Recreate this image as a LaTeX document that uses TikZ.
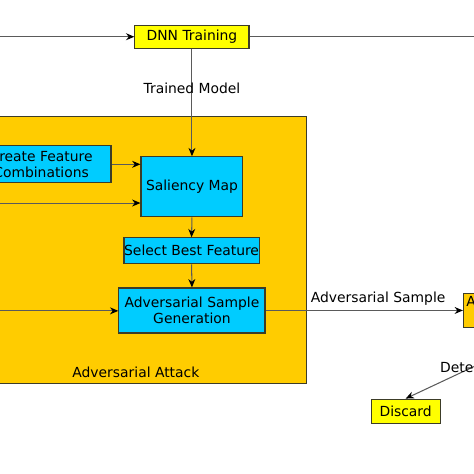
\documentclass[tikz,border=0pt]{standalone}
\usepackage{fontspec}
\setmainfont{DejaVu Sans}
\usetikzlibrary{positioning, arrows.meta}
\definecolor{trainyellow}{RGB}{255, 255, 0}
\definecolor{attackorange}{RGB}{255, 204, 0}
\definecolor{stepcyan}{RGB}{0, 204, 255}
\definecolor{edgegray}{RGB}{90, 90, 90}
\definecolor{boxline}{RGB}{60, 60, 40}
\tikzset{
    yellowbox/.style={rectangle, draw=boxline, line width=0.8pt, fill=trainyellow, inner sep=1pt, align=center},
    cyanbox/.style={rectangle, draw=boxline, line width=0.8pt, fill=stepcyan, inner sep=1pt, align=center},
    orangebox/.style={rectangle, draw=boxline, line width=0.8pt, fill=attackorange, inner sep=1pt, align=center},
    flowarrow/.style={-{Stealth[length=6pt, width=5pt, black]}, line width=0.75pt, draw=edgegray},
    flowline/.style={line width=0.75pt, draw=edgegray}
}

\begin{document}
\begin{tikzpicture}
    \path[use as bounding box, clip] (0,0) rectangle (12,12);

    % attack region
    \node[orangebox, minimum width=8.75cm, minimum height=6.76cm] (attack) at (3.375,5.66) {};
    \node (attacklabel) at (3.44,2.58) {Adversarial Attack};

    \node[yellowbox, minimum width=2.89cm, minimum height=0.59cm] (dnn) at (4.86,11.07) {DNN Training};
    \node[cyanbox, minimum width=3.54cm, minimum height=0.94cm] (combos) at (1.04,7.84) {Create Feature\\Combinations};
    \node[cyanbox, minimum width=2.58cm, minimum height=1.52cm] (saliency) at (4.86,7.27) {Saliency Map};
    \node[cyanbox, inner sep=0pt, minimum width=3.42cm, minimum height=0.66cm] (select) at (4.85,5.65) {Select Best Feature};
    \node[cyanbox, minimum width=3.70cm, minimum height=1.14cm] (generate) at (4.86,4.14) {Adversarial Sample\\Generation};
    \node[orangebox, anchor=west, minimum height=0.86cm, inner sep=2pt] (detector) at (11.72,4.15) {Adversarial Sample\\Detection};
    \node[yellowbox, minimum width=1.75cm, minimum height=0.61cm] (discard) at (10.27,1.59) {Discard};

    % free ends outside the page
    \coordinate (datain) at (-1,11.07);
    \coordinate (dataout) at (13,11.07);
    \coordinate (salin) at (-1,6.86);
    \coordinate (genin) at (-1,4.13);
    \coordinate (detout) at (14,3.66);

    \draw[flowarrow] (datain) -- (dnn.west);
    \draw[flowline] (dnn.east) -- (dataout);
    \draw[flowarrow] (dnn.south) -- node[pos=0.37] {Trained Model} (saliency.north);
    \draw[flowarrow] (combos.east) -- (combos.east -| saliency.west);
    \draw[flowarrow] (salin) -- (salin -| saliency.west);
    \draw[flowarrow] (saliency.south) -- (select.north);
    \draw[flowarrow] (select.south) -- (generate.north);
    \draw[flowarrow] (genin) -- (genin -| generate.west);
    \draw[flowarrow] (generate.east) -- node[above, pos=0.57] {Adversarial Sample} (generate.east -| detector.west);
    \draw[flowarrow] (detout) -- node[pos=0.55] {Detected} (discard.north);
\end{tikzpicture}
\end{document}
